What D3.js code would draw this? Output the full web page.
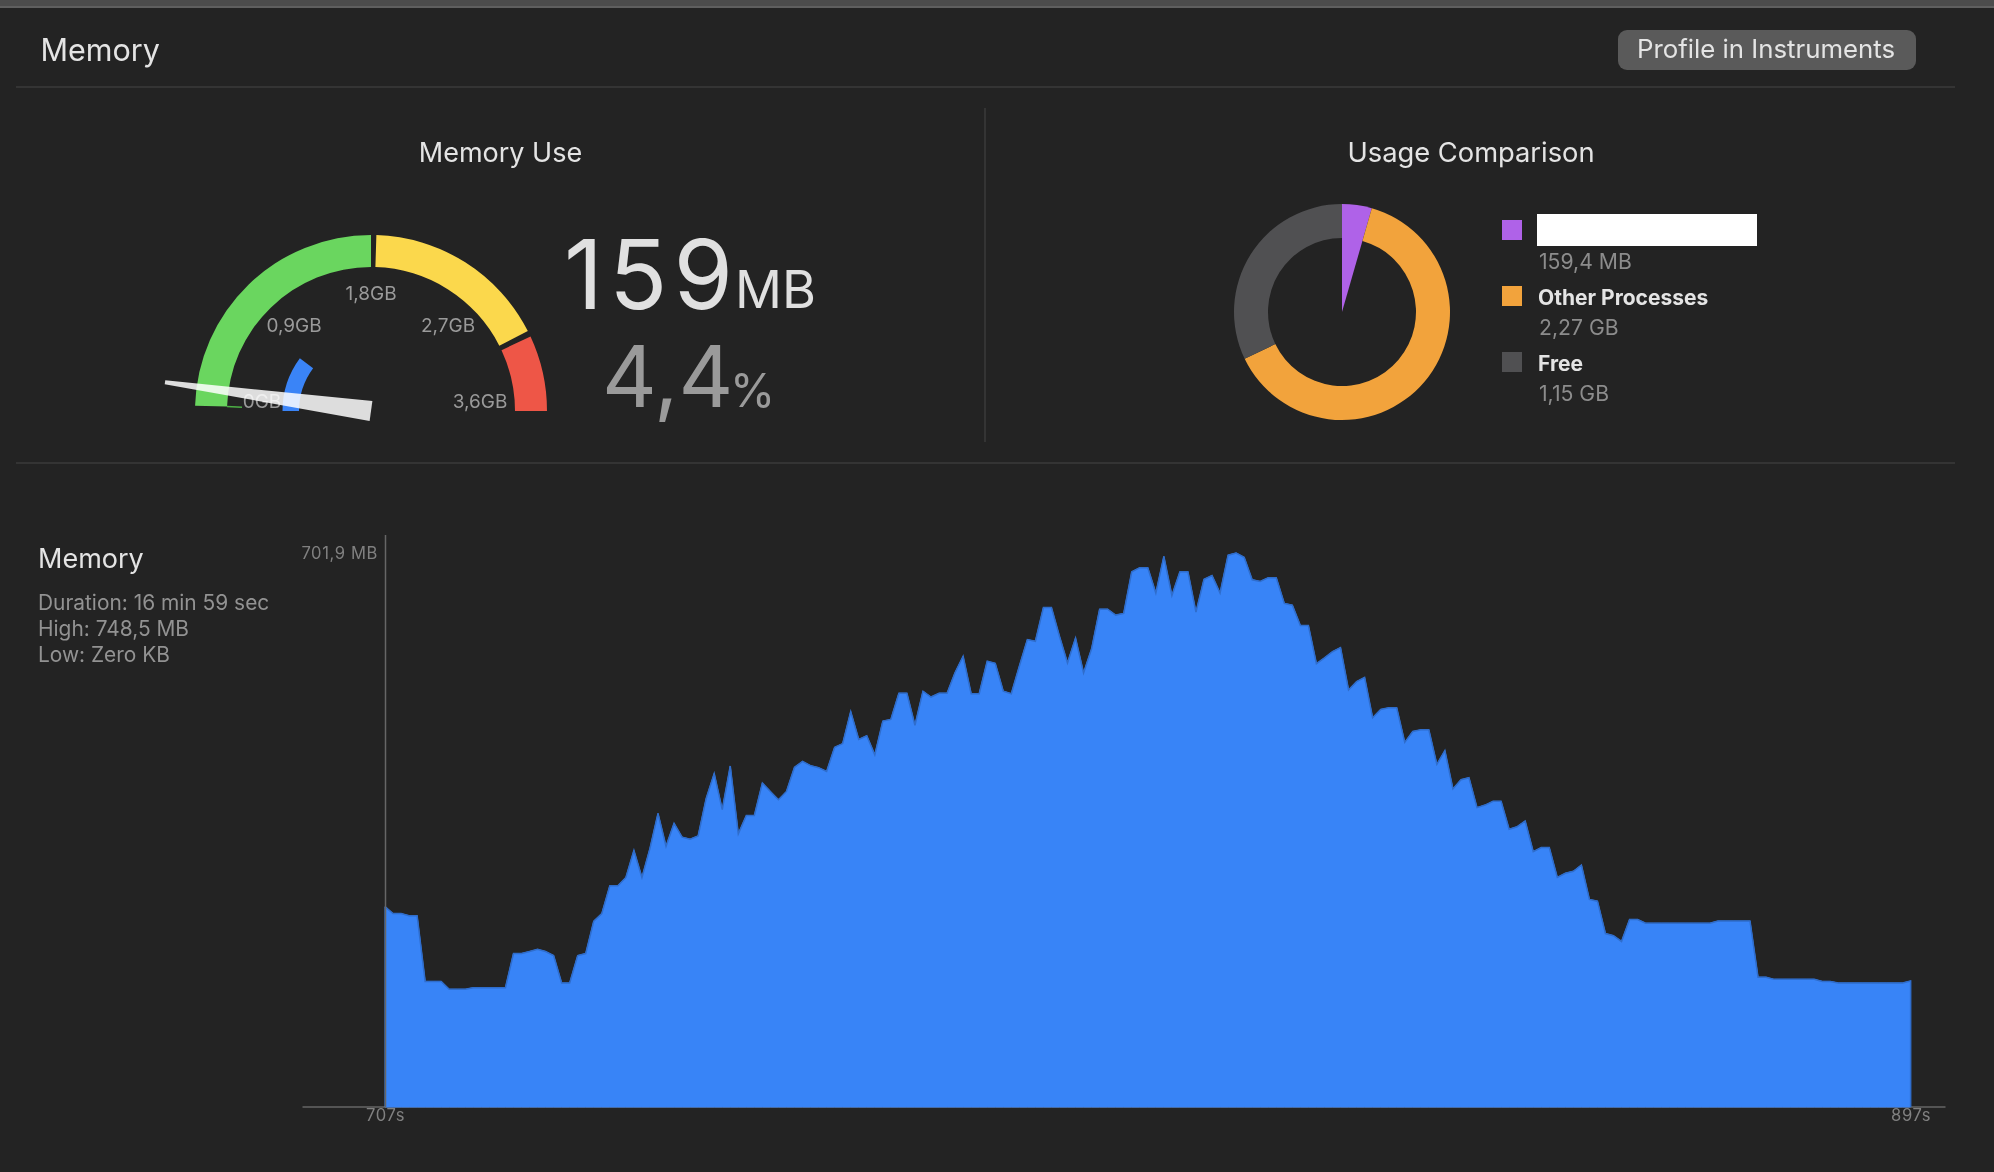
<!DOCTYPE html>
<html>

<head>
	<meta charset="utf-8">
	<style>
		html, body {
			margin: 0;
			background: #232323;
			overflow: hidden;
		}

		svg {
			display: block;
			font-family: Inter, "Noto Sans", sans-serif;
		}

		.axis path, .axis line {
			stroke: #666;
		}

		.axis text {
			fill: #808080;
			font-family: Inter, "Noto Sans", sans-serif;
			font-size: 16.6px;
			letter-spacing: 0.6px;
		}
	</style>
	<script src="https://cdn.jsdelivr.net/npm/d3@7"></script>
</head>

<body>
	<svg id="Panel" width="1994" height="1172"></svg>

	<script>
		// gauge, all in GB
		let gaugeMax = 3.6;
		let gaugeTicks = [0, 0.9, 1.8, 2.7, 3.6];
		let gaugeTickLabels = ["0GB", "0,9GB", "1,8GB", "2,7GB", "3,6GB"];
		let gaugeGreen = [0.035, 1.8];
		let gaugeYellow = [1.835, 3.06];
		let gaugeRed = [3.1, 3.6];
		let gaugeHistory = [0, 0.73];
		let memoryUsedGB = 0.159;

		// usage comparison, all in GB
		let usageNames = ["", "Other Processes", "Free"];
		let usageValues = [0.1594, 2.27, 1.15];
		let usageLabels = ["159,4 MB", "2,27 GB", "1,15 GB"];
		let usageColors = ["#af62e8", "#f2a33c", "#505052"];

		// memory timeline: one reading per second, 707s to 897s, in MB
		let timeStart = 707;
		let timeEnd = 897;
		let timeTop = 701.9;
		let memoryMB = [
			253.9, 245.0, 245.0, 242.3, 242.3, 159.1, 159.1, 159.1, 149.1, 149.1,
			149.1, 151.2, 151.2, 151.2, 151.2, 151.2, 194.4, 194.4, 197.0, 199.7,
			197.0, 191.8, 157.0, 157.0, 191.8, 194.4, 235.5, 245.0, 280.3, 280.3,
			290.8, 325.0, 290.8, 327.7, 371.9, 330.3, 359.3, 341.9, 339.3, 343.5,
			390.9, 422.5, 376.7, 432.0, 346.1, 369.3, 369.3, 410.4, 399.8, 389.3,
			399.8, 430.4, 437.8, 432.5, 429.9, 425.1, 455.7, 460.4, 501.0, 465.7,
			470.4, 446.2, 488.9, 491.0, 524.2, 524.2, 483.6, 526.8, 519.4, 524.2,
			524.2, 550.5, 571.1, 523.6, 523.6, 564.7, 562.1, 526.8, 523.6, 558.4,
			592.1, 590.0, 632.7, 632.7, 596.3, 562.6, 594.2, 550.0, 580.5, 630.6,
			630.6, 623.2, 625.3, 678.0, 683.3, 683.3, 651.1, 697.5, 648.0, 678.0,
			678.0, 626.9, 668.5, 673.3, 651.1, 699.1, 701.9, 696.4, 668.0, 665.9,
			670.6, 670.6, 638.0, 635.8, 610.0, 610.0, 561.6, 568.9, 576.8, 582.1,
			528.4, 538.9, 544.2, 493.1, 503.6, 505.7, 505.7, 462.0, 475.7, 477.8,
			477.8, 434.1, 451.5, 403.0, 414.6, 417.2, 379.3, 382.5, 387.2, 387.2,
			351.9, 355.1, 362.4, 323.5, 328.7, 328.7, 290.8, 296.1, 298.7, 306.6,
			262.9, 260.8, 219.7, 217.0, 209.7, 237.6, 237.6, 232.8, 232.8, 232.8,
			232.8, 232.8, 232.8, 232.8, 232.8, 232.8, 235.5, 235.5, 235.5, 235.5,
			235.5, 164.4, 164.4, 161.7, 161.7, 161.7, 161.7, 161.7, 161.7, 159.1,
			159.1, 157.0, 157.0, 157.0, 157.0, 157.0, 157.0, 157.0, 157.0, 157.0,
			159.6
		];

		let svg = d3.select("#Panel");
		let textLight = "#e4e4e4";
		let textDim = "#929292";

		function addText(parent, str, x, y, size, fill, opts) {
			opts = opts || {};
			return parent.append("text")
				.attr("x", x)
				.attr("y", y)
				.attr("font-size", size)
				.attr("fill", fill)
				.attr("font-weight", opts.weight || 400)
				.attr("text-anchor", opts.anchor || "start")
				.attr("letter-spacing", opts.spacing || null)
				.text(str);
		}

		function drawFrame() {
			svg.append("rect").attr("width", 1994).attr("height", 6).attr("fill", "#4c4c4c");
			svg.append("rect").attr("y", 6).attr("width", 1994).attr("height", 2).attr("fill", "#5f5f5f");

			addText(svg, "Memory", 40.5, 60.5, 30.5, textLight);

			svg.append("rect")
				.attr("x", 1618).attr("y", 30)
				.attr("width", 298).attr("height", 40)
				.attr("rx", 9)
				.attr("fill", "#5a5a5a");
			addText(svg, "Profile in Instruments", 1766, 58, 25.8, textLight, {anchor: "middle"});

			// separators
			[87, 463].forEach(y => {
				svg.append("line")
					.attr("x1", 16).attr("x2", 1955)
					.attr("y1", y).attr("y2", y)
					.attr("stroke", "#3b3b3b")
					.attr("stroke-width", 1.5);
			});
			svg.append("line")
				.attr("x1", 985).attr("x2", 985)
				.attr("y1", 108).attr("y2", 442)
				.attr("stroke", "#3b3b3b")
				.attr("stroke-width", 1.5);
		}

		function drawGauge() {
			let cx = 371;
			let cy = 411;
			let outer = 176;
			let inner = 144;
			let g = svg.append("g").attr("transform", `translate(${cx},${cy})`);

			addText(svg, "Memory Use", 500.5, 162, 27, textLight, {anchor: "middle"});

			let angle = d3.scaleLinear().domain([0, gaugeMax]).range([-Math.PI / 2, Math.PI / 2]);
			let arc = d3.arc().innerRadius(inner).outerRadius(outer);

			let bands = [
				{range: gaugeGreen, color: "#6ad65f"},
				{range: gaugeYellow, color: "#fbd84c"},
				{range: gaugeRed, color: "#ee5647"}
			];
			g.selectAll(".band").data(bands).enter().append("path")
				.attr("class", "band")
				.attr("fill", d => d.color)
				.attr("d", d => arc({startAngle: angle(d.range[0]), endAngle: angle(d.range[1])}));

			// thin tail left behind at the start of the green band
			g.append("line")
				.attr("x1", -144).attr("x2", -129)
				.attr("y1", -4.5).attr("y2", -3.8)
				.attr("stroke", "#4caf45")
				.attr("stroke-width", 1.5);

			g.append("path")
				.attr("fill", "#3a84f7")
				.attr("d", d3.arc().innerRadius(72).outerRadius(88.5)({
					startAngle: angle(gaugeHistory[0]),
					endAngle: angle(gaugeHistory[1])
				}));

			// label offsets around the gauge centre, same order as gaugeTicks
			let labelOffsets = [[-109, -10], [-77, -86], [0, -118], [77, -86], [109, -10]];
			g.selectAll(".tickLabel").data(gaugeTicks).enter().append("text")
				.attr("class", "tickLabel")
				.attr("x", (d, i) => labelOffsets[i][0])
				.attr("y", (d, i) => labelOffsets[i][1])
				.attr("dy", "0.36em")
				.attr("text-anchor", "middle")
				.attr("font-size", 19)
				.attr("fill", "#9a9a9a")
				.text((d, i) => gaugeTickLabels[i]);

			// needle, it brightens whatever it sits on
			let deg = angle(memoryUsedGB) * 180 / Math.PI;
			g.append("path")
				.attr("d", "M-10,0L10,0L2,-208L-2,-208Z")
				.attr("transform", `rotate(${deg})`)
				.attr("fill", "#d8d8d8")
				.style("mix-blend-mode", "screen");

			addText(svg, "159", 564, 309, 96, "#e0e0e0", {spacing: 6});
			addText(svg, "MB", 735, 308, 52, "#e0e0e0");
			addText(svg, "4,4", 602, 407, 85, "#9a9a9a");
			addText(svg, "%", 730, 407, 46, "#9a9a9a");
		}

		function drawUsage() {
			let cx = 1342;
			let cy = 312;
			let outer = 108;
			let inner = 74;
			let g = svg.append("g").attr("transform", `translate(${cx},${cy})`);

			addText(svg, "Usage Comparison", 1471, 162, 27.3, textLight, {anchor: "middle"});

			let slices = d3.pie().sort(null)(usageValues);
			g.selectAll("path").data(slices).enter().append("path")
				.attr("fill", (d, i) => usageColors[i])
				// the app's own slice runs all the way to the centre
				.attr("d", (d, i) => d3.arc().innerRadius(i == 0 ? 0 : inner).outerRadius(outer)(d));

			let rowY = d3.scaleLinear().domain([0, 1]).range([220, 286]);
			usageValues.forEach((v, i) => {
				let top = rowY(i);
				svg.append("rect")
					.attr("x", 1502).attr("y", top)
					.attr("width", 20).attr("height", 20)
					.attr("fill", usageColors[i]);
				if (usageNames[i]) {
					addText(svg, usageNames[i], 1538, top + 18.7, 21, "#e4e4e4", {weight: 700});
				}
				addText(svg, usageLabels[i], 1539, top + 48.7, 21.2, "#8c8c8c");
			});

			// the name of the app is blanked out in the picture
			svg.append("rect")
				.attr("x", 1537).attr("y", 214)
				.attr("width", 220).attr("height", 32)
				.attr("fill", "#ffffff");
		}

		function drawTimeline() {
			addText(svg, "Memory", 38, 568, 27, textLight);
			addText(svg, "Duration: 16 min 59 sec", 38, 610, 20.9, textDim);
			addText(svg, "High: 748,5 MB", 38, 636, 20.9, textDim);
			addText(svg, "Low: Zero KB", 38, 661.5, 20.9, textDim);

			let left = 385;
			let right = 1910.6;
			let bottom = 1107;
			let top = 534.5;

			let x = d3.scaleLinear().domain([timeStart, timeEnd]).range([left, right]);
			let y = d3.scaleLinear().domain([0, 725.3]).range([bottom, top]);

			let points = memoryMB.map((v, i) => ({t: timeStart + i, v: v}));

			let area = d3.area().x(d => x(d.t)).y0(bottom).y1(d => y(d.v));
			let line = d3.line().x(d => x(d.t)).y(d => y(d.v));

			// baseline runs past both ends of the plot
			svg.append("line")
				.attr("x1", 302.5).attr("x2", 1945.5)
				.attr("y1", bottom).attr("y2", bottom)
				.attr("stroke", "#666")
				.attr("stroke-width", 1.5);

			svg.append("path").datum(points)
				.attr("d", area)
				.attr("fill", "#3884f7")
				.attr("stroke", "#3884f7")
				.attr("stroke-width", 1);
			// darker edge follows the top and drops down the right side
			svg.append("path").datum(points.concat([{t: timeEnd, v: 0}]))
				.attr("d", line)
				.attr("fill", "none")
				.attr("stroke", "#2f6dcc")
				.attr("stroke-width", 1.5);

			let axisY = d3.axisLeft(y)
				.tickValues([timeTop])
				.tickSize(0)
				.tickPadding(7)
				.tickFormat(d => String(d).replace(".", ",") + " MB");
			let axisX = d3.axisBottom(x)
				.tickValues([timeStart, timeEnd])
				.tickSize(0)
				.tickPadding(2)
				.tickFormat(d => d + "s");

			svg.append("g")
				.attr("class", "axis")
				.attr("transform", `translate(${left},0)`)
				.call(axisY)
				.call(g => g.select(".domain").attr("stroke-width", 1.5));
			svg.append("g")
				.attr("class", "axis")
				.attr("transform", `translate(0,${bottom})`)
				.call(axisX)
				.call(g => g.select(".domain").remove());
		}

		drawFrame();
		drawGauge();
		drawUsage();
		drawTimeline();
	</script>
</body>

</html>
